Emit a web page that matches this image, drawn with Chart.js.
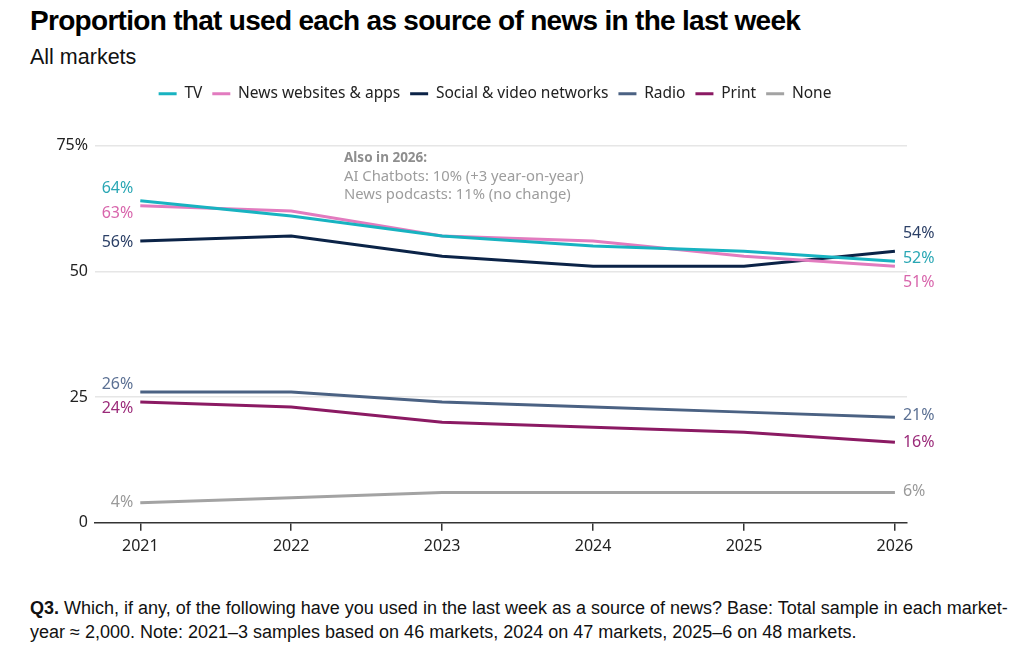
<!DOCTYPE html>
<html>
<head>
<meta charset="utf-8">
<script src="https://cdn.jsdelivr.net/npm/chart.js@4.4.1/dist/chart.umd.min.js"></script>
<style>
  body { margin: 0; background: #fff; width: 1024px; height: 666px; position: relative; overflow: hidden;
         font-family: "Liberation Sans Narrow", "Liberation Sans", sans-serif; color: #111; }
  #title { position: absolute; left: 30px; top: 5px; font-size: 28px; letter-spacing: -0.7px; font-weight: bold; color: #000; white-space: nowrap; }
  #sub { position: absolute; left: 30px; top: 45px; font-size: 21.5px; white-space: nowrap; }
  #wrap { position: absolute; left: 0; top: 0; width: 1024px; height: 575px; }
  #note { position: absolute; left: 30px; top: 596px; font-size: 18px; line-height: 24px; white-space: nowrap; }
</style>
</head>
<body>
<div id="title">Proportion that used each as source of news in the last week</div>
<div id="sub">All markets</div>
<div id="wrap"><canvas id="newsChart"></canvas></div>
<div id="note"><b>Q3.</b> Which, if any, of the following have you used in the last week as a source of news? Base: Total sample in each market-<br>year ≈ 2,000. Note: 2021–3 samples based on 46 markets, 2024 on 47 markets, 2025–6 on 48 markets.</div>

<script>
// values (% of sample)
const years = [2021, 2022, 2023, 2024, 2025, 2026];
const seriesNames = ['TV', 'News websites & apps', 'Social & video networks', 'Radio', 'Print', 'None'];
const tv = [64, 61, 57, 55, 54, 52];
const websites = [63, 62, 57, 56, 53, 51];
const social = [56, 57, 53, 51, 51, 54];
const radio = [26, 26, 24, 23, 22, 21];
const print = [24, 23, 20, 19, 18, 16];
const none = [4, 5, 6, 6, 6, 6];
const yTicks = [0, 25, 50, 75];
const noteLines = ['Also in 2026:', 'AI Chatbots: 10% (+3 year-on-year)', 'News podcasts: 11% (no change)'];

// styling
const lineColors = ['#18b3c1', '#e27bbf', '#0b2347', '#4b6283', '#8b1a63', '#a3a3a3'];
const labelColors = ['#2aa7b4', '#d866ac', '#2b3f66', '#5c7194', '#9b2b7a', '#9a9a9a'];
// vertical nudges for the start / end labels so they don't collide
const startShift = [-12, 8, 1, -8, 6, 0];
const endShift = [-3, 16, -18, -2, 0, -1];

const allSeries = [tv, websites, social, radio, print, none];
const font = '"Noto Sans", "Open Sans", sans-serif';

const endLabels = {
    id: 'endLabels',
    afterDatasetsDraw(chart) {
        const ctx = chart.ctx;
        ctx.save();
        ctx.font = '16px ' + font;
        ctx.textBaseline = 'middle';
        chart.data.datasets.forEach((ds, i) => {
            const pts = chart.getDatasetMeta(i).data;
            const first = pts[0], last = pts[pts.length - 1];
            ctx.fillStyle = labelColors[i];
            ctx.textAlign = 'right';
            ctx.fillText(allSeries[i][0] + '%', first.x - 7, first.y + startShift[i]);
            ctx.textAlign = 'left';
            ctx.fillText(allSeries[i][allSeries[i].length - 1] + '%', last.x + 8, last.y + endShift[i]);
        });
        // side note
        ctx.textAlign = 'left';
        ctx.font = 'bold 13.5px ' + font;
        ctx.fillStyle = '#8e8e8e';
        ctx.fillText(noteLines[0], 344, 158);
        ctx.font = '14.8px ' + font;
        ctx.fillStyle = '#9d9d9d';
        ctx.fillText(noteLines[1], 344, 177);
        ctx.fillText(noteLines[2], 344, 195);
        ctx.restore();
    }
};

// push the plot down below the legend, and centre the legend over the plot
const legendGap = {
    id: 'legendGap',
    beforeInit(chart) {
        const fit = chart.legend.fit;
        chart.legend.fit = function () {
            fit.bind(chart.legend)();
            this.height += 34;
        };
    },
    afterLayout(chart) {
        chart.legend.left += 83;
    }
};

const ctx = document.getElementById('newsChart').getContext('2d');

new Chart(ctx, {
    type: 'line',
    data: {
        datasets: allSeries.map((vals, i) => ({
            label: seriesNames[i],
            data: years.map((yr, j) => ({ x: yr, y: vals[j] })),
            borderColor: lineColors[i],
            backgroundColor: lineColors[i],
            borderWidth: 3,
            pointRadius: 0,
            tension: 0,
            fill: false
        }))
    },
    plugins: [legendGap, endLabels],
    options: {
        responsive: true,
        maintainAspectRatio: false,
        animation: false,
        layout: { padding: { top: 76, right: 117, bottom: 13, left: 0 } },
        plugins: {
            legend: {
                position: 'top',
                labels: {
                    usePointStyle: true,
                    pointStyle: 'line',
                    pointStyleWidth: 18,
                    boxHeight: 15,
                    padding: 10,
                    color: '#222',
                    font: { family: font, size: 15.5 }
                }
            },
            tooltip: { enabled: false }
        },
        scales: {
            x: {
                type: 'linear',
                min: 2020.7,
                max: 2026.08,
                afterBuildTicks: scale => { scale.ticks = years.map(v => ({ value: v })); },
                ticks: {
                    callback: v => String(v),
                    color: '#222',
                    padding: 6,
                    font: { family: font, size: 16 }
                },
                grid: { drawOnChartArea: false, drawTicks: true, tickLength: 8, color: '#333', lineWidth: 1.5 },
                border: { display: true, color: '#333', width: 1.5 }
            },
            y: {
                min: 0,
                max: 75,
                afterBuildTicks: scale => { scale.ticks = yTicks.map(v => ({ value: v })); },
                afterFit: scale => { scale.width = 95; },
                ticks: {
                    callback: v => v === 75 ? '75%' : String(v),
                    color: '#222',
                    padding: 7,
                    font: { family: font, size: 16 }
                },
                grid: {
                    drawTicks: false,
                    color: c => c.tick && c.tick.value === 0 ? 'rgba(0,0,0,0)' : '#e6e6e6',
                    lineWidth: 1.5
                },
                border: { display: false }
            }
        }
    }
});
</script>
</body>
</html>
